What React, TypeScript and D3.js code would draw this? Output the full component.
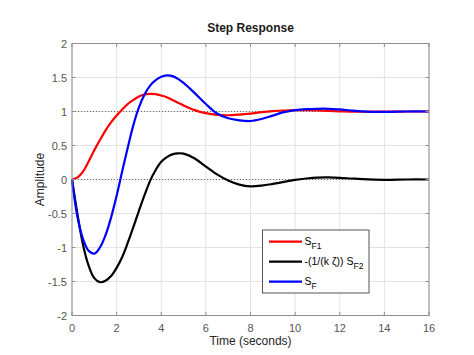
import React from "react";
import * as d3 from "d3";

const timeS = [0, 0.25, 0.5, 0.75, 1, 1.25, 1.5, 1.75, 2, 2.25, 2.5, 2.75, 3, 3.25, 3.5, 3.75, 4, 4.25, 4.5, 4.75, 5, 5.5, 6, 6.5, 7, 7.5, 8, 8.5, 9, 9.5, 10, 10.5, 11, 11.5, 12, 12.5, 13, 14, 15, 16];
const sF1 = [0, 0.03, 0.12, 0.27, 0.43, 0.58, 0.72, 0.84, 0.94, 1.03, 1.11, 1.17, 1.22, 1.25, 1.26, 1.255, 1.235, 1.21, 1.17, 1.13, 1.09, 1.02, 0.975, 0.95, 0.945, 0.955, 0.97, 0.99, 1.005, 1.015, 1.02, 1.02, 1.015, 1.01, 1.003, 0.998, 0.996, 0.998, 1.0, 1.0];
const sF2 = [0, -0.52, -0.97, -1.27, -1.45, -1.51, -1.49, -1.42, -1.3, -1.14, -0.93, -0.7, -0.46, -0.23, -0.02, 0.14, 0.26, 0.33, 0.37, 0.385, 0.38, 0.31, 0.19, 0.075, -0.015, -0.075, -0.1, -0.09, -0.065, -0.035, -0.005, 0.015, 0.028, 0.03, 0.025, 0.015, 0.005, -0.005, 0.0, 0.0];
const sF = [0, -0.56, -0.88, -1.05, -1.09, -1.0, -0.82, -0.56, -0.24, 0.12, 0.47, 0.8, 1.06, 1.25, 1.38, 1.46, 1.51, 1.53, 1.52, 1.48, 1.42, 1.27, 1.11, 0.97, 0.9, 0.87, 0.86, 0.89, 0.94, 0.99, 1.02, 1.035, 1.04, 1.04, 1.03, 1.015, 1.003, 0.995, 1.0, 1.0];

const xTicks = [0, 2, 4, 6, 8, 10, 12, 14, 16];
const yTicks = [-2, -1.5, -1, -0.5, 0, 0.5, 1, 1.5, 2];

const W = 474, H = 355;
const L = 72, R = 429, T = 43.5, B = 315.5;

export default function App() {
  const x = d3.scaleLinear().domain([0, 16]).range([L, R]);
  const y = d3.scaleLinear().domain([-2, 2]).range([B, T]);
  const line = (vals: number[]) =>
    d3.line<number>().x((_, i) => x(timeS[i])).y((v) => y(v)).curve(d3.curveCatmullRom.alpha(0.5))(vals) || "";

  const axisCol = "#8f8f8f";
  const tickText = "#555555";
  const font = "'Liberation Sans', Arial, Helvetica, sans-serif";

  const legendItems = [
    { color: "#ff0000", pre: "S", sub: "F1" },
    { color: "#000000", pre: "-(1/(k ζ)) S", sub: "F2" },
    { color: "#0000ff", pre: "S", sub: "F" },
  ];
  const lgX = 262.5, lgY = 230, lgW = 106.5, lgH = 63;

  return (
    <svg width={W} height={H} style={{ position: "absolute", left: 0, top: 0, background: "#fff" }} fontFamily={font}>
      <rect x={0} y={0} width={W} height={H} fill="#fff" />
      {xTicks.map((t) => (
        <line key={"gx" + t} x1={x(t)} x2={x(t)} y1={T} y2={B} stroke="#e3e3e3" strokeWidth={1} />
      ))}
      {yTicks.map((t) => (
        <line key={"gy" + t} x1={L} x2={R} y1={y(t)} y2={y(t)} stroke="#e3e3e3" strokeWidth={1} />
      ))}
      {[0, 1].map((v) => (
        <line key={"ref" + v} x1={L} x2={R} y1={y(v)} y2={y(v)} stroke="#555" strokeWidth={0.9} strokeDasharray="1,2" />
      ))}
      <path d={line(sF1)} fill="none" stroke="#ff0000" strokeWidth={2.2} />
      <path d={line(sF2)} fill="none" stroke="#000000" strokeWidth={2.2} />
      <path d={line(sF)} fill="none" stroke="#0000ff" strokeWidth={2.2} />
      <rect x={L} y={T} width={R - L} height={B - T} fill="none" stroke={axisCol} strokeWidth={1} />
      {xTicks.map((t) => (
        <g key={"tx" + t}>
          <line x1={x(t)} x2={x(t)} y1={B} y2={B - 3.5} stroke={axisCol} />
          <line x1={x(t)} x2={x(t)} y1={T} y2={T + 3.5} stroke={axisCol} />
          <text x={x(t)} y={B + 16} textAnchor="middle" fontSize={11} fill={tickText}>{t}</text>
        </g>
      ))}
      {yTicks.map((t) => (
        <g key={"ty" + t}>
          <line x1={L} x2={L + 3.5} y1={y(t)} y2={y(t)} stroke={axisCol} />
          <line x1={R} x2={R - 3.5} y1={y(t)} y2={y(t)} stroke={axisCol} />
          <text x={L - 5} y={y(t) + 4} textAnchor="end" fontSize={11} fill={tickText}>{t}</text>
        </g>
      ))}
      <text x={(L + R) / 2} y={31.5} textAnchor="middle" fontSize={12} fontWeight="bold" fill="#1a1a1a">Step Response</text>
      <text x={(L + R) / 2} y={345} textAnchor="middle" fontSize={12} fill="#262626">Time (seconds)</text>
      <text transform={`translate(44,${(T + B) / 2}) rotate(-90)`} textAnchor="middle" fontSize={12} fill="#262626">Amplitude</text>
      <rect x={lgX} y={lgY} width={lgW} height={lgH} fill="#fff" stroke="#555" strokeWidth={1} />
      {legendItems.map((it, i) => {
        const cy = lgY + 11.7 + i * 20;
        return (
          <g key={"lg" + i}>
            <line x1={lgX + 6.5} x2={lgX + 39.5} y1={cy} y2={cy} stroke={it.color} strokeWidth={2.2} />
            <text x={lgX + 42} y={cy + 3.5} fontSize={10.5} fill="#000">
              {it.pre}
              <tspan dy={4} fontSize={8.5}>{it.sub}</tspan>
            </text>
          </g>
        );
      })}
    </svg>
  );
}
